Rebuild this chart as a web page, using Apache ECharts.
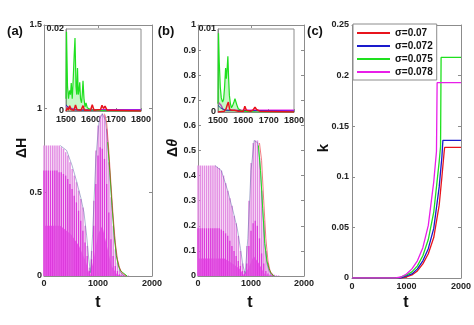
<!DOCTYPE html>
<html><head><meta charset="utf-8">
<script src="https://cdn.jsdelivr.net/npm/echarts@6/dist/echarts.min.js"></script>
<style>html,body{margin:0;padding:0;background:#fff}#c{width:474px;height:325px}</style>
</head><body><div id="c"></div>
<script>
// ---------- data ----------
const tBars = [0,40,80,120,160,200,240,280,320,360,400,440,480,520,560,600,640,680,720,760,800,840,880,920,960,1000,1040,1080,1120,1160,1200,1240,1280,1320,1360,1400,1440,1480,1520,1560];
// panel (a) ΔH envelopes (oscillation peaks)
const dH_light = [0.78,0.78,0.78,0.78,0.78,0.78,0.78,0.78,0.77,0.76,0.74,0.72,0.68,0.64,0.6,0.56,0.51,0.46,0.41,0.3,0.18,0.05,0.15,0.45,0.75,0.9,0.96,0.97,0.96,0.88,0.68,0.47,0.3,0.16,0.08,0.04,0.02,0.01,0.005,0.002];
const dH_mid = [0.63,0.63,0.63,0.63,0.63,0.63,0.63,0.62,0.62,0.61,0.6,0.58,0.55,0.52,0.48,0.44,0.39,0.33,0.27,0.2,0.12,0.03,0.1,0.3,0.55,0.72,0.77,0.76,0.7,0.55,0.38,0.22,0.12,0.06,0.03,0.01,0.005,0.003,0.002,0.001];
const dH_solidT = [0,300,500,650,780,850,920,1000,1080,1150,1250,1350,1450];
const dH_solidV = [0.3,0.3,0.25,0.18,0.08,0,0.1,0.25,0.3,0.2,0.06,0.01,0];
const dH_blueT = [300,420,520,600,680,740,790,830,860,900,960,1020,1080,1140,1180,1220,1260,1300,1340,1380,1420,1480];
const dH_blueV = [0.78,0.75,0.66,0.57,0.47,0.38,0.24,0.1,0.02,0.25,0.7,0.93,0.97,0.93,0.8,0.6,0.42,0.26,0.13,0.06,0.02,0];
const dH_greenT = [1180,1220,1260,1300,1340,1380,1420,1460,1500,1540];
const dH_greenV = [0.8,0.62,0.42,0.24,0.12,0.06,0.03,0.02,0.01,0];
const dH_redT = [1120,1160,1200,1240,1280,1320,1360,1400,1440,1480,1520];
const dH_redV = [0.97,0.92,0.75,0.55,0.36,0.2,0.1,0.05,0.02,0.01,0];
// panel (b) Δθ envelopes
const dTh_light = [0.44,0.44,0.44,0.44,0.44,0.44,0.44,0.44,0.44,0.435,0.43,0.42,0.4,0.37,0.34,0.31,0.28,0.24,0.21,0.16,0.1,0.05,0.02,0.12,0.3,0.45,0.53,0.54,0.54,0.47,0.34,0.22,0.1,0.05,0.02,0.01,0.005,0.002,0.001,0];
const dTh_mid = [0.19,0.19,0.19,0.19,0.19,0.19,0.19,0.19,0.19,0.19,0.19,0.185,0.18,0.17,0.16,0.14,0.12,0.1,0.08,0.06,0.04,0.02,0.01,0.05,0.12,0.18,0.21,0.22,0.2,0.15,0.09,0.05,0.02,0.01,0.005,0.003,0.002,0.001,0.001,0];
const dTh_solidT = [0,500,650,780,860,950,1050,1150,1250,1350];
const dTh_solidV = [0.07,0.07,0.05,0.03,0.005,0.03,0.08,0.05,0.01,0];
const dTh_blueT = [320,440,560,660,740,800,850,890,940,1000,1060,1130,1180,1220,1260,1300,1340,1400];
const dTh_blueV = [0.44,0.42,0.34,0.26,0.19,0.11,0.04,0.01,0.15,0.42,0.54,0.53,0.42,0.27,0.13,0.05,0.02,0];
const dTh_greenT = [1140,1180,1220,1260,1300,1340,1380,1440];
const dTh_greenV = [0.52,0.42,0.27,0.13,0.06,0.03,0.01,0];
const dTh_redT = [1160,1200,1240,1280,1320,1360,1420];
const dTh_redV = [0.53,0.46,0.3,0.15,0.06,0.02,0];
// inset (a)
const iaGreenT = [1500,1502,1506,1510,1514,1518,1521,1525,1529,1533,1536,1540,1543,1546,1549,1552,1555,1558,1562,1565,1568,1572,1576,1580,1585,1590,1600,1620,1650,1700,1800];
const iaGreenV = [0.003,0.0193,0.006,0.003,0.005,0.004,0.0068,0.003,0.008,0.014,0.0178,0.006,0.004,0.0105,0.004,0.005,0.007,0.003,0.002,0.004,0.0074,0.003,0.001,0.002,0.0008,0.0005,0.0003,0.0002,0.0001,0,0];
const iaRedT = [1500,1506,1510,1515,1520,1527,1532,1538,1544,1552,1560,1568,1574,1582,1598,1605,1612,1625,1638,1644,1650,1656,1664,1680,1800];
const iaRedV = [0,0.0008,0.0002,0.0013,0.0003,0.0005,0.0002,0.0015,0.0003,0.0004,0.0002,0.0013,0.0002,0.0003,0.0002,0.0015,0.0002,0.0003,0.0003,0.0014,0.0006,0.0012,0.0002,0.0002,0];
const iaBlueT = [1500,1505,1515,1530,1560,1800];
const iaBlueV = [0.0015,0.0012,0.0006,0.0003,0.0002,0.0002];
const iaMagT = [1500,1505,1512,1520,1540,1800];
const iaMagV = [0.0012,0.0015,0.0008,0.0004,0.0003,0.0003];
// inset (b)
const ibGreenT = [1500,1502,1505,1509,1513,1518,1522,1526,1530,1533,1536,1539,1542,1545,1549,1553,1558,1563,1567,1571,1575,1580,1590,1600,1650,1800];
const ibGreenV = [0.001,0.0095,0.006,0.003,0.0017,0.0012,0.0015,0.003,0.0053,0.004,0.0052,0.0067,0.004,0.002,0.001,0.0005,0.0008,0.0012,0.0016,0.0018,0.0008,0.0004,0.0002,0.0001,0,0];
const ibRedT = [1500,1525,1532,1537,1541,1546,1555,1565,1572,1580,1600,1606,1612,1630,1640,1646,1652,1665,1800];
const ibRedV = [0,0.0001,0.0004,0.0009,0.0012,0.0003,0.0002,0.0002,0.0004,0.0001,0.0001,0.0007,0.0002,0.0001,0.0003,0.0006,0.0003,0.0001,0];
const ibBlueT = [1500,1510,1530,1800];
const ibBlueV = [0.0008,0.0005,0.0002,0.0001];
const ibMagT = [1500,1505,1512,1520,1540,1800];
const ibMagV = [0.0012,0.0014,0.0008,0.0003,0.0002,0.0002];
// panel (c) k
const sigmaNames = ['σ=0.07','σ=0.072','σ=0.075','σ=0.078'];
const kRedT = [0,900,1000,1100,1200,1300,1400,1500,1600,1650,1690,1700,2000];
const kRedV = [0,0,0.001,0.003,0.007,0.014,0.024,0.04,0.072,0.1,0.124,0.129,0.129];
const kBlueT = [0,900,1000,1100,1200,1300,1400,1500,1600,1650,1668,2000];
const kBlueV = [0,0,0.002,0.004,0.009,0.017,0.029,0.049,0.09,0.12,0.136,0.136];
const kGreenT = [0,850,1000,1100,1200,1300,1400,1500,1600,1625,1635,2000];
const kGreenV = [0,0,0.003,0.006,0.012,0.022,0.038,0.065,0.115,0.13,0.218,0.218];
const kMagT = [0,800,900,1000,1100,1200,1300,1400,1500,1550,1562,2000];
const kMagV = [0,0,0.001,0.004,0.009,0.017,0.03,0.052,0.095,0.125,0.193,0.193];

// ---------- styling ----------
const FONT = '"Liberation Sans", Arial, sans-serif';
const AX = '#8c8c8c';
const RED = '#e8141c', BLUE = '#1a1acc', GREEN = '#1ee01e', MAG = '#e81ee8';
const pairs = (ts, vs) => ts.map((t, i) => [t, vs[i]]);
const fmt = v => String(v);
const lbl = (show, extra) => Object.assign({show, fontSize: 9, fontWeight: 'bold', color: '#222', fontFamily: FONT, margin: 3, formatter: fmt}, extra || {});

function xAx(grid, pos, min, max, interval, showLbl, extra) {
  return Object.assign({gridIndex: grid, type: 'value', min, max, interval, position: pos,
    axisLine: {show: true, onZero: false, lineStyle: {color: AX, width: 1}},
    axisTick: {show: true, inside: true, length: 3, lineStyle: {color: AX}},
    axisLabel: lbl(showLbl), splitLine: {show: false}}, extra || {});
}
function yAx(grid, pos, min, max, interval, showLbl, extra) {
  return Object.assign({gridIndex: grid, type: 'value', min, max, interval, position: pos,
    axisLine: {show: true, onZero: false, lineStyle: {color: AX, width: 1}},
    axisTick: {show: true, inside: true, length: 3, lineStyle: {color: AX}},
    axisLabel: lbl(showLbl, {margin: 2}), splitLine: {show: false}}, extra || {});
}

const grid = [
  {left: 44, top: 25, width: 108, height: 251},
  {left: 66, top: 29, width: 75, height: 82, show: true, borderColor: AX, borderWidth: 1, backgroundColor: '#fff'},
  {left: 198, top: 25, width: 106, height: 251},
  {left: 218, top: 29, width: 76, height: 83, show: true, borderColor: AX, borderWidth: 1, backgroundColor: '#fff'},
  {left: 352, top: 25, width: 109, height: 253}
];
const xAxis = [
  xAx(0, 'bottom', 0, 2000, 1000, true),
  xAx(0, 'top', 0, 2000, 1000, false),
  xAx(1, 'bottom', 1500, 1800, 100, true, {axisLabel: lbl(true, {margin: 4})}),
  xAx(2, 'bottom', 0, 2000, 1000, true),
  xAx(2, 'top', 0, 2000, 1000, false),
  xAx(3, 'bottom', 1500, 1800, 100, true, {axisLabel: lbl(true, {margin: 4})}),
  xAx(4, 'bottom', 0, 2000, 1000, true, {axisLabel: lbl(true, {margin: 4})}),
  xAx(4, 'top', 0, 2000, 1000, false)
];
const yAxis = [
  yAx(0, 'left', 0, 1.5, 0.5, true),
  yAx(0, 'right', 0, 1.5, 0.5, false),
  yAx(1, 'left', 0, 0.02, 0.02, true, {axisTick: {show: false}}),
  yAx(2, 'left', 0, 1, 0.1, true),
  yAx(2, 'right', 0, 1, 0.1, false),
  yAx(3, 'left', 0, 0.01, 0.01, true, {axisTick: {show: false}}),
  yAx(4, 'left', 0, 0.25, 0.05, true, {axisLabel: lbl(true, {margin: 3})}),
  yAx(4, 'right', 0, 0.25, 0.05, false)
];

function bars(xi, yi, vals, color, w) {
  return {type: 'bar', xAxisIndex: xi, yAxisIndex: yi, data: pairs(tBars, vals), barWidth: w, barGap: '-100%',
    itemStyle: {color}, silent: true, z: 2};
}
function line(name, xi, yi, data, color, width, extra) {
  return Object.assign({name, type: 'line', xAxisIndex: xi, yAxisIndex: yi, data, showSymbol: false, symbol: 'none',
    lineStyle: {color, width}, itemStyle: {color}, silent: true, z: 3}, extra || {});
}

const series = [
  // panel (a)
  bars(0, 0, dH_light, '#e38ee3', 1.5),
  bars(0, 0, dH_mid, '#dc3adc', 1.3),
  line('aS', 0, 0, pairs(dH_solidT, dH_solidV), '#f010f0', 0, {areaStyle: {color: '#f010f0', opacity: 0.8}, z: 2}),
  line('aB', 0, 0, pairs(dH_blueT, dH_blueV), BLUE, 0.8, {lineStyle: {color: '#5560a0', width: 0.8, opacity: 0.6}}),
  line('aG', 0, 0, pairs(dH_greenT, dH_greenV), GREEN, 1),
  line('aR', 0, 0, pairs(dH_redT, dH_redV), RED, 0.8, {lineStyle: {color: RED, width: 0.8, opacity: 0.7}}),
  // inset (a)
  line('iaM', 2, 2, pairs(iaMagT, iaMagV), MAG, 1.5, {z: 5}),
  line('iaB', 2, 2, pairs(iaBlueT, iaBlueV), BLUE, 1, {z: 5}),
  line('iaG', 2, 2, pairs(iaGreenT, iaGreenV), GREEN, 1.2, {z: 6, areaStyle: {color: GREEN, opacity: 0.25}}),
  line('iaR', 2, 2, pairs(iaRedT, iaRedV), RED, 1.5, {z: 7}),
  // panel (b)
  bars(3, 3, dTh_light, '#e38ee3', 1.5),
  bars(3, 3, dTh_mid, '#dc3adc', 1.3),
  line('bS', 3, 3, pairs(dTh_solidT, dTh_solidV), '#f010f0', 0, {areaStyle: {color: '#f010f0', opacity: 0.8}, z: 2}),
  line('bB', 3, 3, pairs(dTh_blueT, dTh_blueV), BLUE, 0.8, {lineStyle: {color: '#5560a0', width: 0.8, opacity: 0.6}}),
  line('bG', 3, 3, pairs(dTh_greenT, dTh_greenV), GREEN, 1),
  line('bR', 3, 3, pairs(dTh_redT, dTh_redV), RED, 0.8, {lineStyle: {color: RED, width: 0.8, opacity: 0.7}}),
  // inset (b)
  line('ibM', 5, 5, pairs(ibMagT, ibMagV), MAG, 1.5, {z: 5}),
  line('ibB', 5, 5, pairs(ibBlueT, ibBlueV), BLUE, 1, {z: 5}),
  line('ibG', 5, 5, pairs(ibGreenT, ibGreenV), GREEN, 1.2, {z: 6, areaStyle: {color: GREEN, opacity: 0.25}}),
  line('ibR', 5, 5, pairs(ibRedT, ibRedV), RED, 1.5, {z: 7}),
  // panel (c)
  line(sigmaNames[0], 6, 6, pairs(kRedT, kRedV), RED, 1.3),
  line(sigmaNames[1], 6, 6, pairs(kBlueT, kBlueV), BLUE, 1.3),
  line(sigmaNames[2], 6, 6, pairs(kGreenT, kGreenV), GREEN, 1.3),
  line(sigmaNames[3], 6, 6, pairs(kMagT, kMagV), MAG, 1.3)
];

function txt(text, x, y, size, rot, rich) {
  const st = {text, x: 0, y: 0, fill: '#111', font: 'bold ' + size + 'px ' + FONT,
    align: 'center', verticalAlign: 'middle', textAlign: 'center', textVerticalAlign: 'middle'};
  if (rich) st.rich = rich;
  return {type: 'text', x, y, rotation: rot || 0, style: st, z: 100};
}
const graphic = [
  txt('(a)', 15, 31, 13),
  txt('(b)', 166, 31, 13),
  txt('(c)', 315, 31, 13),
  txt('ΔH', 22, 148, 14, Math.PI / 2),
  txt('{a|Δ}{b|θ}', 173, 148, 14, Math.PI / 2, {
    a: {fontSize: 14, fontWeight: 'bold', fontFamily: FONT, fill: '#111'},
    b: {fontSize: 14, fontWeight: 'bold', fontStyle: 'italic', fontFamily: FONT, fill: '#111'}}),
  txt('k', 324, 148, 15, Math.PI / 2),
  txt('t', 98, 303, 16),
  txt('t', 250, 303, 16),
  txt('t', 406, 303, 16)
];

const chart = echarts.init(document.getElementById('c'), null, {renderer: 'canvas'});
chart.setOption({
  animation: false,
  backgroundColor: '#fff',
  grid, xAxis, yAxis, series, graphic,
  legend: {
    data: sigmaNames, orient: 'vertical', left: 353, top: 24,
    backgroundColor: '#fff', borderColor: AX, borderWidth: 1, borderRadius: 0,
    padding: [3, 4, 2, 4], itemGap: 1, itemWidth: 33, itemHeight: 2, icon: 'rect',
    selectedMode: false,
    textStyle: {fontSize: 10, fontWeight: 'bold', fontFamily: FONT, color: '#111', lineHeight: 12}
  }
});
</script></body></html>
